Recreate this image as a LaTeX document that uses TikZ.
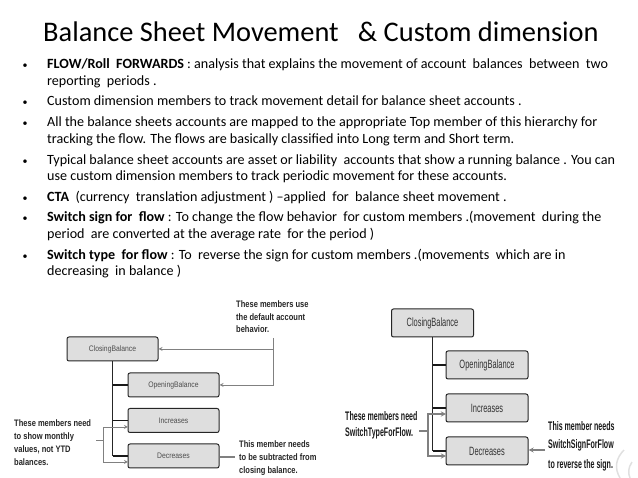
\documentclass[tikz,border=0pt]{standalone}
\usepackage{fontspec}
\setmainfont{Carlito}
\newfontfamily\labelfontL[FakeStretch=.8]{Liberation Sans}
\newfontfamily\labelfontR[FakeStretch=.57]{Liberation Sans}
\newfontfamily\memberfontL[FakeStretch=.85]{Liberation Sans}
\newfontfamily\memberfontR[FakeStretch=.62]{Liberation Sans}
\usetikzlibrary{positioning}
\usetikzlibrary{calc}
\usetikzlibrary{arrows}
\tikzset{
  titleline/.style={anchor=base west,inner sep=0pt,font=\fontsize{28.4}{30}\selectfont},
  bodyline/.style={anchor=base west,inner sep=0pt,font=\fontsize{14.1}{16}\selectfont},
  bulletmark/.style={anchor=base,inner sep=0pt,font=\fontsize{10}{12}\selectfont},
  memberL/.style={draw=black!85,line width=1pt,rounded corners=2pt,fill=black!13,text=black!70,
    minimum width=91pt,minimum height=24pt,inner sep=0pt,font=\memberfontL\fontsize{8}{9}\selectfont},
  memberR/.style={draw=black!85,line width=1pt,rounded corners=2pt,fill=black!13,text=black!80,
    minimum width=82pt,minimum height=28pt,inner sep=0pt,font=\memberfontR\fontsize{12}{13}\selectfont},
  noteL/.style={anchor=base west,inner sep=0pt,text=black!85,font=\labelfontL\bfseries\fontsize{9.4}{10}\selectfont},
  noteR/.style={anchor=base west,inner sep=0pt,text=black!90,font=\labelfontR\bfseries\fontsize{12.4}{13}\selectfont},
  tree/.style={draw=black!85,line width=1pt},
  branch/.style={draw=black!90,line width=1.4pt},
  callout/.style={draw=black!50,line width=.8pt,-stealth},
  calloutR/.style={draw=black!50,line width=1.3pt,-stealth}
}
\begin{document}
\begin{tikzpicture}[x=1pt,y=-1pt]
\useasboundingbox (0,0) rectangle (638,478);
\node[titleline] (title) at (43,42) {Balance Sheet Movement \ \ \& Custom dimension};
% bullets
\foreach \y in {69,106,127,165,202,222,260} {
  \node[bulletmark] (dot\y) at (25,\y) {•};
}
\node[bodyline] (l1) at (47,69) {\textbf{FLOW/Roll\ \ FORWARDS} : analysis that explains the movement of account\ \ balances\ \ between\ \ two};
\node[bodyline] (l2) at (47,86) {reporting\ \ periods .};
\node[bodyline] (l3) at (47,106) {Custom dimension members to track movement detail for balance sheet accounts .};
\node[bodyline] (l4) at (47,127) {All the balance sheets accounts are mapped to the appropriate Top member of this hierarchy for};
\node[bodyline] (l5) at (47,144) {tracking the flow. The flows are basically classified into Long term and Short term.};
\node[bodyline] (l6) at (47,165) {Typical balance sheet accounts are asset or liability\ \ accounts that show a running balance . You can};
\node[bodyline] (l7) at (47,181) {use custom dimension members to track periodic movement for these accounts.};
\node[bodyline] (l8) at (47,202) {\textbf{CTA}\ \ (currency\ \ translation adjustment ) –applied\ \ for\ \ balance sheet movement .};
\node[bodyline] (l9) at (47,222) {\textbf{Switch sign for\ \ flow} : To change the flow behavior\ \ for custom members .(movement\ \ during the};
\node[bodyline] (l10) at (47,239) {period\ \ are converted at the average rate\ \ for the period )};
\node[bodyline] (l11) at (47,260) {\textbf{Switch type\ \ for flow} : To\ \ reverse the sign for custom members .(movements\ \ which are in};
\node[bodyline] (l12) at (47,276) {decreasing\ \ in balance )};
% left tree
\node[memberL] (closingL) at (112.5,349) {ClosingBalance};
\node[memberL] (openingL) at (173.5,385) {OpeningBalance};
\node[memberL] (increasesL) at (173.5,420.5) {Increases};
\node[memberL] (decreasesL) at (173.5,456) {Decreases};
\draw[tree] (closingL.south) -- (closingL.south |- decreasesL.west);
\draw[branch] (closingL.south |- openingL.west) -- (openingL.west);
\draw[branch] (closingL.south |- increasesL.west) -- (increasesL.west);
\draw[branch] (closingL.south |- decreasesL.west) -- (decreasesL.west);
\coordinate (useL) at (273,338);
\coordinate (cornerL) at (273,349);
\coordinate (bracketL) at (96,440);
\coordinate (bracketLmid) at (103,440);
\coordinate (incLin) at (128,427);
\coordinate (decLin) at (128,462);
\coordinate (subL) at (235,457);
\draw[callout] (cornerL) -- (closingL.east);
\draw[callout] (useL) |- (openingL.east);
\draw[draw=black!50,line width=.8pt] (bracketL) -- (bracketLmid);
\draw[callout] (bracketLmid) |- (incLin);
\draw[callout] (bracketLmid) |- (decLin);
\draw[draw=black!50,line width=1.6pt] (decreasesL.east |- subL) -- (subL);
\node[noteL] (useL1) at (236,308) {These members use};
\node[noteL] (useL2) at (236,321) {the default account};
\node[noteL] (useL3) at (236,333) {behavior.};
\node[noteL] (needL1) at (14,427) {These members need};
\node[noteL] (needL2) at (14,440) {to show monthly};
\node[noteL] (needL3) at (14,453) {values, not YTD};
\node[noteL] (needL4) at (14,466) {balances.};
\node[noteL] (subL1) at (239,448) {This member needs};
\node[noteL] (subL2) at (239,461) {to be subtracted from};
\node[noteL] (subL3) at (239,474) {closing balance.};
% right tree
\node[memberR] (closingR) at (432.5,323) {ClosingBalance};
\node[memberR] (openingR) at (487,365) {OpeningBalance};
\node[memberR] (increasesR) at (487,408) {Increases};
\node[memberR] (decreasesR) at (487,451) {Decreases};
\draw[tree] (closingR.south) -- (closingR.south |- decreasesR.west);
\draw[branch] (closingR.south |- openingR.west) -- (openingR.west);
\draw[branch] (closingR.south |- increasesR.west) -- (increasesR.west);
\draw[branch] (closingR.south |- decreasesR.west) -- (decreasesR.west);
\coordinate (bracketR) at (419,431);
\coordinate (bracketRmid) at (428,431);
\coordinate (incRin) at (446,414);
\coordinate (decRin) at (446,456);
\coordinate (signR) at (545,450);
\draw[draw=black!50,line width=1.3pt] (bracketR) -- (bracketRmid);
\draw[calloutR] (bracketRmid) |- (incRin);
\draw[calloutR] (bracketRmid) |- (decRin);
\draw[calloutR] (signR) -- (decreasesR.east |- signR);
\node[noteR] (needR1) at (345,421) {These members need};
\node[noteR] (needR2) at (345,437) {SwitchTypeForFlow.};
\node[noteR] (signR1) at (548,431) {This member needs};
\node[noteR] (signR2) at (548,449) {SwitchSignForFlow};
\node[noteR] (signR3) at (548,469) {to reverse the sign.};
% faint mark in the corner
\draw[black!12,line width=1.5pt] (624,450) .. controls (616,458) and (614,468) .. (620,478);
\draw[black!12,line width=1.5pt] (632,462) .. controls (628,468) and (628,473) .. (630,478);
\end{tikzpicture}
\end{document}
